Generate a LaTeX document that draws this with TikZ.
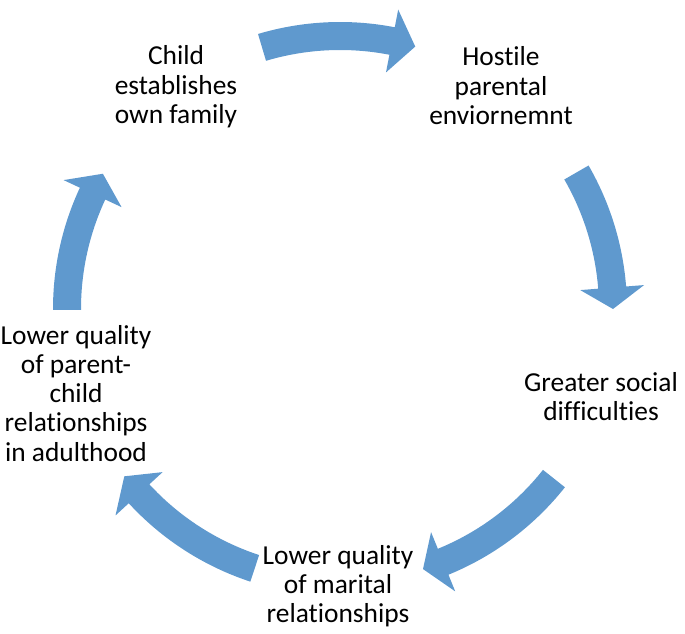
\documentclass[tikz,border=0pt]{standalone}
\usepackage{fontspec}
\setmainfont{Carlito}[Ligatures=NoCommon]
\definecolor{arrowblue}{RGB}{95,153,206}
\tikzset{
  cyclearrow/.style={fill=arrowblue, draw=none},
  label/.style={anchor=base, inner sep=0pt, font=\fontsize{27.4}{29.3}\selectfont, text=black}
}
\newcommand{\cycarrow}[3]{%
  \fill[cyclearrow] (#1:287) arc[start angle=#1, end angle=#2, radius=287]
    -- (#2:305) -- (#3:273) -- (#2:241) -- (#2:259)
    arc[start angle=#2, end angle=#1, radius=259] -- cycle;}
\begin{document}
\begin{tikzpicture}[x=1pt,y=1pt]
\useasboundingbox (0,0) rectangle (685,633);
\node[label] (family) at (176,568) {\begin{tabular}[t]{@{}c@{}}Child\\establishes\\own family\end{tabular}};
\node[label] (hostile) at (501,567) {\begin{tabular}[t]{@{}c@{}}Hostile\\parental\\enviornemnt\end{tabular}};
\node[label] (social) at (601,242) {\begin{tabular}[t]{@{}c@{}}Greater social\\difficulties\end{tabular}};
\node[label] (marital) at (338,69) {\begin{tabular}[t]{@{}c@{}}Lower quality\\of marital\\relationships\end{tabular}};
\node[label] (parent) at (76,289) {\begin{tabular}[t]{@{}c@{}}Lower quality\\of parent-\\child\\relationships\\in adulthood\end{tabular}};
\coordinate (c) at (340,324);
\begin{scope}[shift={(c)}]
  \cycarrow{106.6}{79}{74}
  \cycarrow{30}{4.5}{0}
  \cycarrow{-38.4}{-67.8}{-72.3}
  \cycarrow{-108.2}{-137.4}{-142.2}
  \cycarrow{180.2}{155}{150.3}
\end{scope}
\end{tikzpicture}
\end{document}
